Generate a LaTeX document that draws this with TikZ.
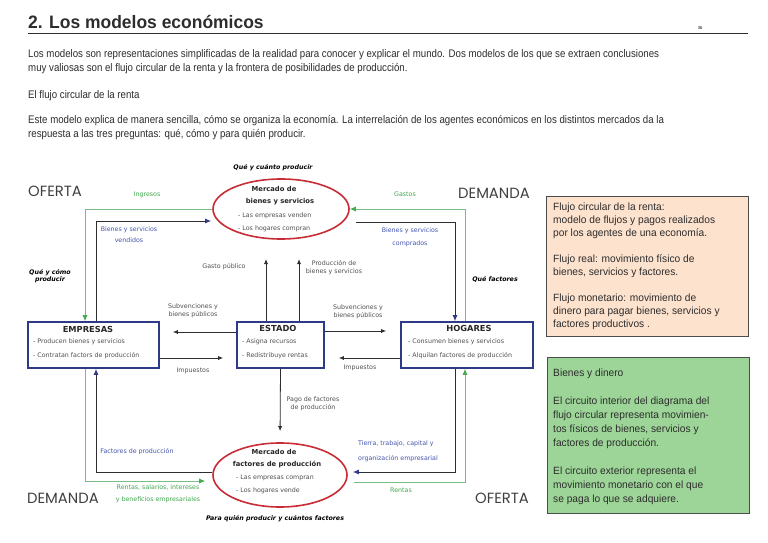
\documentclass[tikz,border=0pt]{standalone}
\usepackage{fontspec}
\newfontfamily\pagefont{Liberation Sans}[FakeStretch=0.88]
\newfontfamily\notefont{Liberation Sans}[FakeStretch=0.97]
\newfontfamily\diagfont{DejaVu Sans}
\newfontfamily\bigfont{Poppins}
\usetikzlibrary{arrows.meta, positioning, shapes.geometric}
\definecolor{AgentBlue}{RGB}{46, 58, 135}
\definecolor{FlowBlue}{RGB}{70, 86, 176}
\definecolor{MoneyGreen}{RGB}{120, 190, 130}
\definecolor{TipGreen}{RGB}{70, 170, 80}
\definecolor{TextGreen}{RGB}{64, 168, 80}
\definecolor{MarketRed}{RGB}{200, 45, 55}
\definecolor{LineDark}{RGB}{45, 45, 50}
\definecolor{LabelGray}{RGB}{80, 80, 80}
\definecolor{PageText}{RGB}{45, 45, 45}
\definecolor{NotePeach}{RGB}{253, 226, 206}
\definecolor{NoteGreen}{RGB}{157, 213, 152}

\begin{document}
\begin{tikzpicture}[x=1pt, y=-1pt,
  agent/.style={draw=AgentBlue, line width=1.6pt, fill=white, minimum height=46pt, inner sep=0},
  market/.style={ellipse, draw=MarketRed, line width=1.6pt, inner sep=0},
  note/.style={draw=black!70, line width=0.8pt, inner sep=0},
  notetxt/.style={font=\notefont\fontsize{10.5}{#1}\selectfont, text=PageText, align=left, inner sep=0, anchor=north west},
  body/.style={font=\pagefont\fontsize{11}{14}\selectfont, text=PageText, align=left, inner sep=0, anchor=north west},
  lbl/.style={font=\diagfont\fontsize{6.3}{#1}\selectfont, text=LabelGray, align=center, inner sep=0},
  lbl/.default=7.8,
  blu/.style={lbl=#1, text=FlowBlue}, blu/.default=11,
  grn/.style={lbl=#1, text=TextGreen}, grn/.default=12,
  itm/.style={lbl, anchor=west},
  ask/.style={font=\diagfont\bfseries\itshape\fontsize{6.3}{7.5}\selectfont, text=black, align=center, inner sep=0},
  ttl/.style={font=\diagfont\bfseries\fontsize{8.3}{9}\selectfont, text=black!85, inner sep=0},
  mtl/.style={font=\diagfont\bfseries\fontsize{6.8}{7.5}\selectfont, text=black!85, inner sep=0},
  big/.style={font=\bigfont\fontsize{14.8}{15}\selectfont, text=black!75, inner sep=0},
  real/.style={draw=LineDark, line width=1pt, -{Latex[length=6pt, width=5pt, color=AgentBlue]}},
  money/.style={draw=MoneyGreen, line width=0.8pt, -{Latex[length=6pt, width=5pt, color=TipGreen]}},
  gov/.style={draw=LineDark, line width=0.8pt, -{Latex[length=5pt, width=4pt]}}]
\useasboundingbox[fill=white] (0,0) rectangle (768,543);
% page text
\node[font=\notefont\bfseries\fontsize{18}{20}\selectfont, text=PageText, inner sep=0, anchor=west] (title) at (28,22) {2. Los modelos económicos};
\node[font=\pagefont\fontsize{4.5}{5}\selectfont, inner sep=0] (pnum) at (700,28) {36};
\draw[PageText, line width=1pt] (28,34) -- (748,34);
\node[body] (p1) at (28,49) {Los modelos son representaciones simplificadas de la realidad para conocer y explicar el mundo. Dos modelos de los que se extraen conclusiones\\muy valiosas son el flujo circular de la renta y la frontera de posibilidades de producción.};
\node[body] (p2) at (28,90) {El flujo circular de la renta};
\node[body] (p3) at (28,115) {Este modelo explica de manera sencilla, cómo se organiza la economía. La interrelación de los agentes económicos en los distintos mercados da la\\respuesta a las tres preguntas: qué, cómo y para quién producir.};
% agents and markets
\node[agent, minimum width=131pt] (emp) at (93.5,345) {};
\node[agent, minimum width=87pt] (est) at (280.5,345) {};
\node[agent, minimum width=132pt] (hog) at (467,345) {};
\node[market, minimum width=136pt, minimum height=60pt] (mbs) at (281,209) {};
\node[market, minimum width=134pt, minimum height=64pt] (mfp) at (280,475) {};
\node[ttl] (empT) at (88,329) {EMPRESAS};
\node[itm] (emp1) at (33,342) {- Producen bienes y servicios};
\node[itm] (emp2) at (33,356) {- Contratan factors de producción};
\node[ttl] (estT) at (278,328) {ESTADO};
\node[itm] (est1) at (242,342) {- Asigna recursos};
\node[itm] (est2) at (242,356) {- Redistribuye rentas};
\node[ttl] (hogT) at (469,328) {HOGARES};
\node[itm] (hog1) at (408,342) {- Consumen bienes y servicios};
\node[itm] (hog2) at (408,356) {- Alquilan factores de producción};
\node[mtl] (mbsT1) at (274,189) {Mercado de};
\node[mtl] (mbsT2) at (280,202) {bienes y servicios};
\node[itm] (mbs1) at (238,216) {- Las empresas venden};
\node[itm] (mbs2) at (238,229) {- Los hogares compran};
\node[mtl] (mfpT1) at (274,452) {Mercado de};
\node[mtl] (mfpT2) at (277,464) {factores de producción};
\node[itm] (mfp1) at (236,478) {- Las empresas compran};
\node[itm] (mfp2) at (236,491) {- Los hogares vende};
% corners of the circuits
\coordinate (iL) at (96,221); \coordinate (oL) at (85,209);
\coordinate (iR) at (455,222); \coordinate (oR) at (465,210);
\coordinate (ibL) at (96,472); \coordinate (obL) at (85,481);
\coordinate (ibR) at (455,472); \coordinate (obR) at (465,482);
\coordinate (gp) at (266,259); \coordinate (pb) at (299,259);
% flows
\draw[money] (mbs.west) -| (emp.north -| oL);
\draw[real, shorten >=1pt] (emp.north -| iL) |- (iL -| mbs.west);
\draw[money] (hog.north -| oR) |- (mbs.east);
\draw[real, shorten <=6pt] (iR -| mbs.east) -| (hog.north -| iR);
\draw[real] (ibL -| mfp.west) -| (emp.south -| ibL);
\draw[money, shorten >=7pt] (emp.south -| obL) |- (obL -| mfp.west);
\draw[real, shorten >=5pt] (hog.south -| ibR) |- (ibR -| mfp.east);
\draw[money, shorten <=6pt] (obR -| mfp.east) -| (hog.south -| obR);
\draw[gov] (est.north -| gp) -- (gp); \draw[gov] (est.north -| pb) -- (pb);
\draw[gov, shorten >=13pt] ([yshift=13pt]est.west) -- ([yshift=13pt]emp.east);
\draw[gov, shorten >=13pt] ([yshift=-13pt]emp.east) -- ([yshift=-13pt]est.west);
\draw[gov, shorten >=14pt] ([yshift=14pt]est.east) -- ([yshift=14pt]hog.west);
\draw[gov, shorten >=14pt] ([yshift=-13pt]hog.west) -- ([yshift=-13pt]est.east);
\draw[gov, shorten >=11pt] (est.south) -- (mfp.north);
% labels
\node[big] (of1) at (55,191) {OFERTA};
\node[big] (de1) at (494,193) {DEMANDA};
\node[big] (de2) at (63,498) {DEMANDA};
\node[big] (of2) at (502,498) {OFERTA};
\node[ask] (q1) at (273,168) {Qué y cuánto producir};
\node[ask] (q2) at (50,276) {Qué y cómo\\producir};
\node[ask] (q3) at (495,279) {Qué factores};
\node[ask] (q4) at (275,519) {Para quién producir y cuántos factores};
\node[grn] (ing) at (147,195) {Ingresos};
\node[grn] (gas) at (405,194) {Gastos};
\node[blu] (bsv) at (129,235) {Bienes y servicios\\vendidos};
\node[blu=13] (bsc) at (410,237) {Bienes y servicios\\comprados};
\node[lbl] (gpub) at (224,267) {Gasto público};
\node[lbl] (prod) at (334,268) {Producción de\\bienes y servicios};
\node[lbl] (sub1) at (193,311) {Subvenciones y\\bienes públicos};
\node[lbl] (sub2) at (358,312) {Subvenciones y\\bienes públicos};
\node[lbl] (imp1) at (193,371) {Impuestos};
\node[lbl] (imp2) at (360,368) {Impuestos};
\node[lbl] (pago) at (313,404) {Pago de factores\\de producción};
\node[blu] (fac) at (137,452) {Factores de producción};
\node[blu=15, align=left] (ttc) at (398,451) {Tierra, trabajo, capital y\\organización empresarial};
\node[grn] (ren1) at (158,494) {Rentas, salarios, intereses\\y beneficios empresariales};
\node[grn] (ren2) at (401,490) {Rentas};
% notes
\node[note, fill=NotePeach, minimum width=202pt, minimum height=140pt] (defbox) at (647,266) {};
\node[notetxt=12.9] (deftxt) at (553,203) {Flujo circular de la renta:\\modelo de flujos y pagos realizados\\por los agentes de una economía.\\[12.9pt]Flujo real: movimiento físico de\\bienes, servicios y factores.\\[13.5pt]Flujo monetario: movimiento de\\dinero para pagar bienes, servicios y\\factores productivos .};
\node[note, fill=NoteGreen, minimum width=202pt, minimum height=156pt] (bdbox) at (648,435) {};
\node[notetxt=14] (bdtxt) at (553,369) {Bienes y dinero\\[14pt]El circuito interior del diagrama del\\flujo circular representa movimien-\\tos físicos de bienes, servicios y\\factores de producción.\\[14pt]El circuito exterior representa el\\movimiento monetario con el que\\se paga lo que se adquiere.};
\end{tikzpicture}
\end{document}
